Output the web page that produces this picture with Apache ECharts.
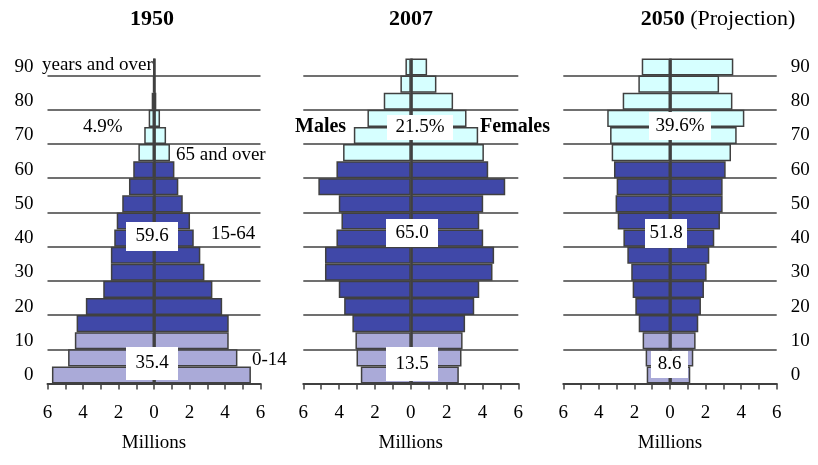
<!DOCTYPE html>
<html>
<head>
<meta charset="utf-8">
<script src="https://cdn.jsdelivr.net/npm/echarts@6/dist/echarts.min.js"></script>
<style>
  html, body { margin: 0; padding: 0; background: #ffffff; }
  #chart { width: 818px; height: 465px; }
</style>
</head>
<body>
<div id="chart"></div>
<script>
  // age groups (start of each 5-year band), 90 = 90 and over
  var ages = ['0', '5', '10', '15', '20', '25', '30', '35', '40', '45', '50', '55', '60', '65', '70', '75', '80', '85', '90'];

  // millions of people, from 0-4 up to 90+
  var males1950   = [5.75, 4.84, 4.46, 4.36, 3.84, 2.86, 2.43, 2.43, 2.24, 2.10, 1.79, 1.41, 1.17, 0.88, 0.55, 0.30, 0.13, 0.05, 0.02];
  var females1950 = [5.46, 4.70, 4.21, 4.21, 3.84, 3.29, 2.84, 2.61, 2.24, 2.03, 1.62, 1.37, 1.15, 0.90, 0.68, 0.34, 0.13, 0.05, 0.02];
  var males2007   = [2.79, 3.03, 3.09, 3.26, 3.72, 4.02, 4.79, 4.79, 4.15, 3.87, 4.02, 5.16, 4.15, 3.78, 3.18, 2.42, 1.51, 0.58, 0.30];
  var females2007 = [2.68, 2.83, 2.89, 3.03, 3.54, 3.82, 4.56, 4.65, 4.04, 3.82, 4.04, 5.27, 4.32, 4.08, 3.76, 3.11, 2.36, 1.43, 0.91];
  var males2050   = [1.31, 1.37, 1.54, 1.76, 1.95, 2.10, 2.18, 2.40, 2.62, 2.94, 3.06, 3.00, 3.15, 3.28, 3.37, 3.53, 2.66, 1.78, 1.59];
  var females2050 = [1.14, 1.31, 1.44, 1.59, 1.74, 1.91, 2.06, 2.21, 2.49, 2.81, 2.96, 2.96, 3.13, 3.43, 3.75, 4.18, 3.51, 2.76, 3.56];

  var panelTitles = ['1950', '2007', '{b|2050} (Projection)'];
  // share of total population: 0-14, 15-64, 65 and over
  var shares = [['35.4', '59.6', '4.9%'], ['13.5', '65.0', '21.5%'], ['8.6', '51.8', '39.6%']];

  var serif = 'Liberation Serif';
  var dark = '#404040';
  var colChild = '#aaaad8';
  var colWork = '#4048a8';
  var colOld = '#d6ffff';

  var grids = [
    { left: 47.5, width: 213, top: 58.5, height: 325 },
    { left: 303.3, width: 215, top: 58.5, height: 325 },
    { left: 563.3, width: 213.4, top: 58.5, height: 325 }
  ];
  var titleX = [152, 411, 718];

  function barColor(p) {
    if (p.dataIndex < 3) return colChild;
    if (p.dataIndex < 13) return colWork;
    return colOld;
  }

  var xAxes = [], yAxes = [], series = [], titles = [];
  var pops = [[males1950, females1950], [males2007, females2007], [males2050, females2050]];

  for (var i = 0; i < 3; i++) {
    titles.push({
      text: panelTitles[i],
      left: titleX[i],
      top: 8,
      padding: 0,
      textAlign: 'center',
      textStyle: {
        fontFamily: serif, fontSize: 22, fontWeight: i == 2 ? 'normal' : 'bold', color: '#000',
        rich: { b: { fontFamily: serif, fontSize: 22, fontWeight: 'bold', color: '#000' } }
      }
    });
    xAxes.push({
      type: 'value', gridIndex: i, min: -6, max: 6, interval: 1,
      axisLine: { show: true, lineStyle: { color: dark, width: 2 } },
      axisTick: { show: true, length: 6, lineStyle: { color: dark, width: 1.5 } },
      axisLabel: {
        margin: 20, color: '#000', fontFamily: serif, fontSize: 19,
        formatter: function (v) { return v % 2 === 0 ? String(Math.abs(v)) : ''; }
      },
      splitLine: { show: false },
      name: 'Millions', nameLocation: 'middle', nameGap: 50,
      nameTextStyle: { color: '#000', fontFamily: serif, fontSize: 19 }
    });
    yAxes.push({
      type: 'category', gridIndex: i, data: ages,
      position: i == 2 ? 'right' : 'left',
      axisLine: { show: false },
      axisTick: { show: false },
      axisLabel: { show: i != 1, interval: 1, margin: 14, color: '#000', fontFamily: serif, fontSize: 19 },
      splitLine: { show: true, interval: 1, showMaxLine: false, lineStyle: { color: dark, width: 1.5 } }
    });
    series.push({
      type: 'bar', xAxisIndex: i, yAxisIndex: i, silent: true,
      data: pops[i][0].map(function (v) { return -v; }),
      barGap: '-100%', barCategoryGap: '0%',
      itemStyle: { color: barColor, borderColor: dark, borderWidth: 1.5 }
    });
    series.push({
      type: 'bar', xAxisIndex: i, yAxisIndex: i, silent: true,
      data: pops[i][1],
      barGap: '-100%', barCategoryGap: '0%',
      itemStyle: { color: barColor, borderColor: dark, borderWidth: 1.5 },
      markLine: {
        silent: true, symbol: ['none', 'none'], label: { show: false },
        lineStyle: { color: dark, width: 2.5, type: 'solid' },
        data: [{ xAxis: 0 }]
      }
    });
  }

  // white boxes with the shares
  var boxes = [
    { t: shares[0][0], x: 126, y: 347, w: 52, h: 33 },
    { t: shares[0][1], x: 126, y: 222, w: 52, h: 29 },
    { t: shares[1][0], x: 386, y: 347, w: 52, h: 34 },
    { t: shares[1][1], x: 386, y: 219, w: 52, h: 28 },
    { t: shares[1][2], x: 387, y: 115, w: 66, h: 25 },
    { t: shares[2][0], x: 651, y: 351, w: 37, h: 27 },
    { t: shares[2][1], x: 645, y: 219, w: 42, h: 29 },
    { t: shares[2][2], x: 649, y: 112, w: 62, h: 28 }
  ];
  var graphic = [];
  boxes.forEach(function (b) {
    graphic.push({ type: 'rect', z: 100, shape: { x: b.x, y: b.y, width: b.w, height: b.h }, style: { fill: '#fff' } });
    graphic.push({ type: 'text', z: 101, x: b.x + b.w / 2, y: b.y + b.h / 2,
      style: { text: b.t, font: '19px "Liberation Serif"', fill: '#000', align: 'center', verticalAlign: 'middle' } });
  });

  function note(txt, x, y, bold) {
    graphic.push({ type: 'text', z: 101, x: x, y: y,
      style: { text: txt, font: (bold ? 'bold 20px' : '19px') + ' "Liberation Serif"', fill: '#000', align: 'left', verticalAlign: 'middle' } });
  }
  note(shares[0][2], 83, 127);
  note('years and over', 42, 65);
  note('65 and over', 176, 155);
  note('15-64', 211, 234);
  note('0-14', 252, 360);
  note('Males', 295, 127, true);
  note('Females', 480, 127, true);

  var myChart = echarts.init(document.getElementById('chart'));
  var option = {
    animation: false,
    backgroundColor: '#fff',
    title: titles,
    grid: grids,
    xAxis: xAxes,
    yAxis: yAxes,
    series: series,
    graphic: graphic
  };
  myChart.setOption(option);
</script>
</body>
</html>
